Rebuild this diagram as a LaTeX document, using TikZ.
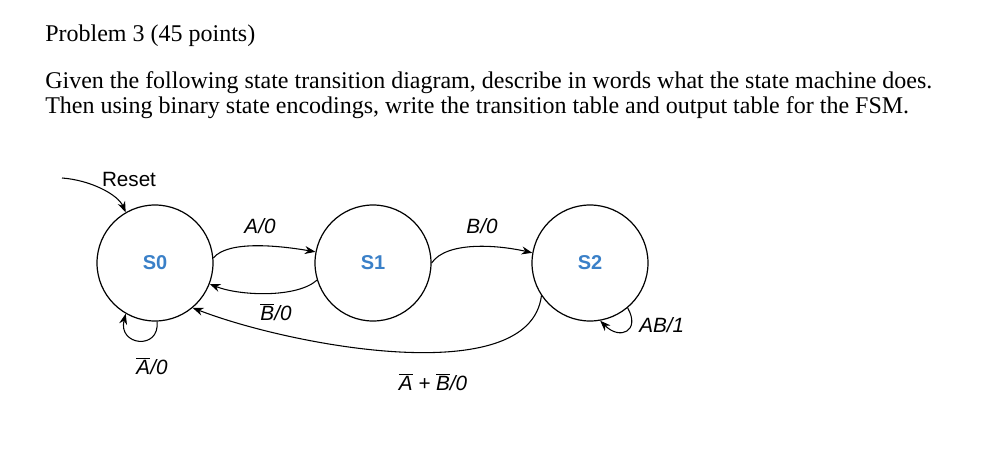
\documentclass[tikz,border=0pt]{standalone}
\usepackage{fontspec}
\setmainfont{Liberation Serif}
\newfontfamily\diagfont{Liberation Sans}
\usepackage{tikz}
\usetikzlibrary{arrows.meta}
\definecolor{stateblue}{RGB}{58,128,200}
\newcommand{\nbar}[1]{\ensuremath{\overline{\mbox{#1}}}}

\begin{document}
\begin{tikzpicture}[x=0.75pt,y=0.75pt,yscale=-1,xscale=1,
  state/.style={draw, circle, minimum size=87pt, inner sep=0pt, line width=0.9pt, text=stateblue, font=\diagfont\bfseries\fontsize{15}{17}\selectfont},
  lbl/.style={inner sep=0.75pt, font=\diagfont\itshape\fontsize{15.5}{17}\selectfont},
  trans/.style={line width=0.8pt, -{Stealth[length=8pt,width=6pt]}},
  txt/.style={anchor=base west, inner sep=0pt, font=\fontsize{18}{20}\selectfont}]
\useasboundingbox (0,0) rectangle (989,461);

% Text Node
\node[txt] (title) at (45,41) {Problem 3 (45 points)};
% Text Node
\node[txt] (line1) at (45,88) {Given the following state transition diagram, describe in words what the state machine does.};
% Text Node
\node[txt] (line2) at (45,113) {Then using binary state encodings, write the transition table and output table for the FSM.};

%Shape: Circle [S0]
\node[state] (S0) at (155,263) {S0};
%Shape: Circle [S1]
\node[state] (S1) at (373,263) {S1};
%Shape: Circle [S2]
\node[state] (S2) at (590,263) {S2};

\coordinate (rst) at (62,178);

%Curve Lines [reset]
\draw[trans] (rst) .. controls +(28,2) and +(-8,-18) .. (S0.120);
%Curve Lines [S0 to S1]
\draw[trans] (S0.5) .. controls +(15,-18) and +(-35,-6) .. (S1.169);
%Curve Lines [S1 to S0]
\draw[trans] (S1.197) .. controls +(-20,18) and +(30,12) .. (S0.-21);
%Curve Lines [S1 to S2]
\draw[trans] (S1.0) .. controls +(15,-22) and +(-35,-8) .. (S2.170);
%Curve Lines [S2 to S0]
\draw[trans] (S2.214) .. controls +(-12,95) and +(98,38) .. (S0.310);
%Curve Lines [S0 loop]
\draw[trans] (S0.272) .. controls +(3,29) and +(-8,32) .. (S0.240);
%Curve Lines [S2 loop]
\draw[trans] (S2.310) .. controls +(13,23) and +(20,20) .. (S2.280);

% Text Node
\node[lbl, font=\diagfont\fontsize{15.5}{17}\selectfont] (lreset) at (129,179) {Reset};
% Text Node
\node[lbl] (la) at (260,226) {A/0};
% Text Node
\node[lbl] (lnb) at (276,312) {\nbar{B}/0};
% Text Node
\node[lbl] (lb) at (482,226) {B/0};
% Text Node
\node[lbl] (lna) at (152,366) {\nbar{A}/0};
% Text Node
\node[lbl, anchor=west] (lab) at (638,325) {AB/1};
% Text Node
\node[lbl] (lnanb) at (433,382) {\nbar{A} + \nbar{B}/0};

\end{tikzpicture}
\end{document}
